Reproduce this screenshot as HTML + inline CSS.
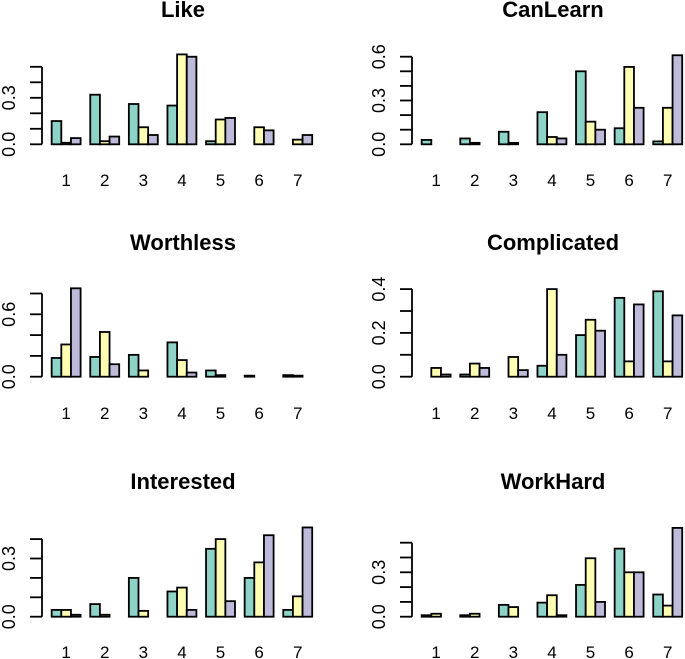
<!DOCTYPE html>
<html><head><meta charset="utf-8"><style>
html,body{margin:0;padding:0;background:#fff;}
svg{display:block;font-family:"Liberation Sans",Arial,sans-serif;}
</style></head><body>
<svg id="chart" width="685" height="659" viewBox="0 0 685 659"></svg>
<script>
const categories = [1,2,3,4,5,6,7];
const seriesColors = ["#8DD3C7","#FFFFB3","#BEBADA"];
const likeA = [0.15,0.32,0.26,0.25,0.02,0,0];
const likeB = [0.01,0.02,0.11,0.58,0.16,0.11,0.03];
const likeC = [0.04,0.05,0.06,0.565,0.17,0.09,0.06];
const canLearnA = [0.03,0.04,0.086,0.22,0.50,0.11,0.02];
const canLearnB = [0,0.01,0.01,0.05,0.155,0.53,0.25];
const canLearnC = [0,0,0,0.04,0.10,0.25,0.61];
const worthlessA = [0.18,0.19,0.21,0.33,0.06,0.01,0.015];
const worthlessB = [0.31,0.43,0.06,0.16,0.015,0,0.01];
const worthlessC = [0.85,0.12,0,0.04,0,0,0];
const complicatedA = [0,0.01,0,0.05,0.19,0.36,0.39];
const complicatedB = [0.04,0.06,0.09,0.40,0.26,0.07,0.07];
const complicatedC = [0.01,0.04,0.03,0.10,0.21,0.33,0.28];
const interestedA = [0.035,0.065,0.20,0.13,0.35,0.20,0.035];
const interestedB = [0.035,0.01,0.03,0.15,0.40,0.28,0.105];
const interestedC = [0.01,0,0,0.035,0.08,0.42,0.46];
const workHardA = [0.01,0.01,0.08,0.095,0.215,0.46,0.15];
const workHardB = [0.02,0.02,0.065,0.145,0.395,0.30,0.075];
const workHardC = [0,0,0,0.01,0.10,0.30,0.60];
const likeTicks = [0,0.1,0.2,0.3,0.4,0.5];
const likeTickLabels = ["0.0","0.3"];
const canLearnTicks = [0,0.1,0.2,0.3,0.4,0.5,0.6];
const canLearnTickLabels = ["0.0","0.3","0.6"];
const worthlessTicks = [0,0.2,0.4,0.6,0.8];
const worthlessTickLabels = ["0.0","0.6"];
const complicatedTicks = [0,0.1,0.2,0.3,0.4];
const complicatedTickLabels = ["0.0","0.2","0.4"];
const interestedTicks = [0,0.1,0.2,0.3,0.4];
const interestedTickLabels = ["0.0","0.3"];
const workHardTicks = [0,0.1,0.2,0.3,0.4,0.5];
const workHardTickLabels = ["0.0","0.3"];

const panels = [
 {title:"Like",series:[likeA,likeB,likeC],ticks:likeTicks,labels:likeTickLabels,ax:42,zero:144.3,per:155,ty:17,ly:186},
 {title:"CanLearn",series:[canLearnA,canLearnB,canLearnC],ticks:canLearnTicks,labels:canLearnTickLabels,ax:412,zero:144.3,per:146,ty:17,ly:186},
 {title:"Worthless",series:[worthlessA,worthlessB,worthlessC],ticks:worthlessTicks,labels:worthlessTickLabels,ax:42,zero:376.7,per:104,ty:250,ly:419},
 {title:"Complicated",series:[complicatedA,complicatedB,complicatedC],ticks:complicatedTicks,labels:complicatedTickLabels,ax:412,zero:376.7,per:219,ty:250,ly:419},
 {title:"Interested",series:[interestedA,interestedB,interestedC],ticks:interestedTicks,labels:interestedTickLabels,ax:42,zero:616.7,per:194,ty:489,ly:658},
 {title:"WorkHard",series:[workHardA,workHardB,workHardC],ticks:workHardTicks,labels:workHardTickLabels,ax:412,zero:616.7,per:148,ty:489,ly:658}
];
const svg = document.getElementById('chart');
const NS = "http://www.w3.org/2000/svg";
function mk(tag, attrs){const e=document.createElementNS(NS,tag);for(const k in attrs)e.setAttribute(k,attrs[k]);return e;}
const W = 9.65;
panels.forEach(p=>{
  const g = mk('g',{});
  
  
  svg.appendChild(g);
  const yS = v => p.zero - v*p.per;
  const xS = i => p.ax + W + i*4*W;
  const t = mk('text',{x:p.ax+141,y:p.ty,'text-anchor':'middle','font-size':22,'font-weight':'bold',fill:'#000'});
  t.textContent = p.title;
  
  
  g.appendChild(t);
  const top = yS(p.ticks[p.ticks.length-1]);
  const axis = mk('line',{x1:p.ax,x2:p.ax,y1:p.zero,y2:top,stroke:'#000','stroke-width':1.8});
  
  
  g.appendChild(axis);
  p.ticks.forEach(v=>{
    const tk = mk('line',{x1:p.ax-12,x2:p.ax,y1:yS(v),y2:yS(v),stroke:'#000','stroke-width':1.8});
    
    
    g.appendChild(tk);
  });
  p.labels.forEach(s=>{
    const y = yS(parseFloat(s)), x = p.ax-27;
    const lb = mk('text',{x:x,y:y,'text-anchor':'middle','font-size':18,fill:'#000',transform:`rotate(-90 ${x} ${y})`});
    lb.textContent = s;
    
    
    g.appendChild(lb);
  });
  categories.forEach((c,i)=>{
    p.series.forEach((arr,j)=>{
      const v = arr[i];
      const r = mk('rect',{x:xS(i)+j*W,y:yS(v),width:W,height:Math.max(0,p.zero-yS(v)),fill:seriesColors[j],stroke:'#000','stroke-width':1.8});
      
      
      g.appendChild(r);
    });
    const xl = mk('text',{x:xS(i)+1.5*W,y:p.ly,'text-anchor':'middle','font-size':17,fill:'#000'});
    xl.textContent = c;
    
    
    g.appendChild(xl);
  });
});
</script>
</body></html>
